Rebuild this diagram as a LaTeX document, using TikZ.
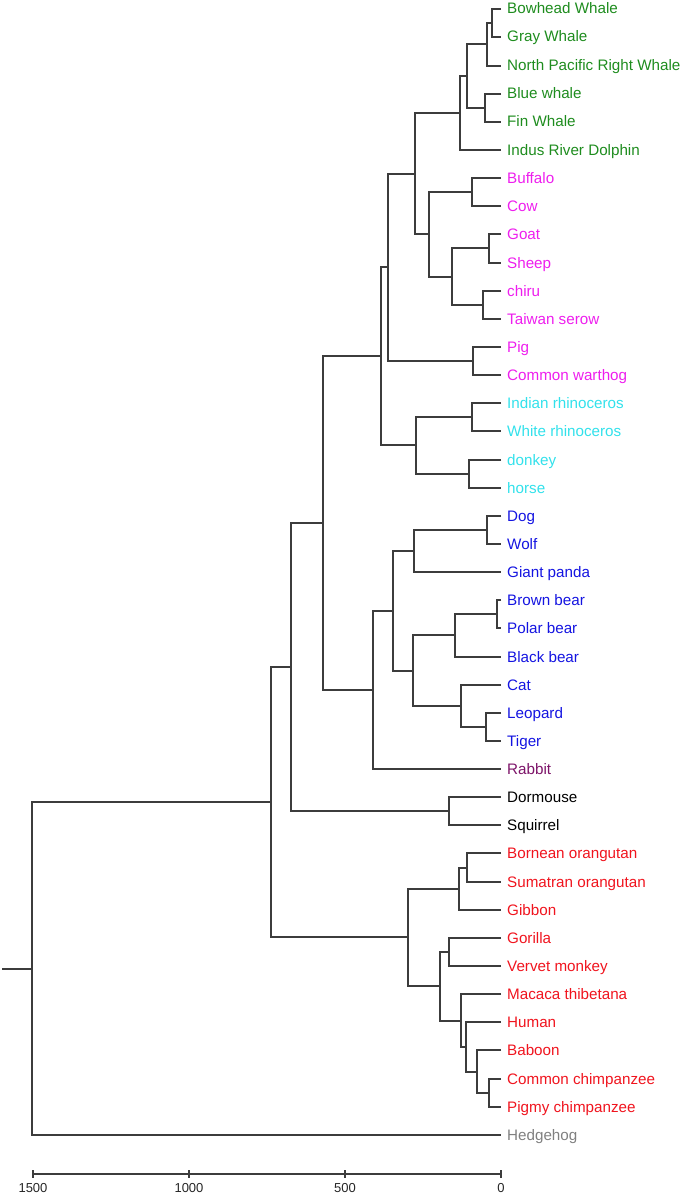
\documentclass[tikz,border=0pt]{standalone}
\usepackage{fontspec}
\setmainfont{Liberation Sans}
\definecolor{cgreen}{RGB}{30,140,30}
\definecolor{cmag}{RGB}{238,30,238}
\definecolor{ccyan}{RGB}{50,225,235}
\definecolor{cblue}{RGB}{20,20,225}
\definecolor{cpurp}{RGB}{125,20,105}
\definecolor{cred}{RGB}{240,20,30}
\definecolor{cgrey}{RGB}{128,128,128}
\definecolor{linec}{RGB}{60,60,60}
\newcommand\LY[1]{-round(9.3+28.14*(#1))}
\begin{document}
\begin{tikzpicture}[x=1pt,y=1pt,
  br/.style={draw=linec, line width=2pt},
  leaf/.style={anchor=west, inner xsep=6pt, inner ysep=0pt, text height=10pt, text depth=0pt, font=\fontsize{15.2}{18}\selectfont},
  ticklab/.style={font=\fontsize{13}{15}\selectfont, text=black!85, inner sep=0pt}
]
\useasboundingbox (0,0) rectangle (685,-1196);
% leaves
\node[leaf,text=cgreen] (L0) at (501,{\LY{0}}) {Bowhead Whale};
\node[leaf,text=cgreen] (L1) at (501,{\LY{1}}) {Gray Whale};
\node[leaf,text=cgreen] (L2) at (501,{\LY{2}}) {North Pacific Right Whale};
\node[leaf,text=cgreen] (L3) at (501,{\LY{3}}) {Blue whale};
\node[leaf,text=cgreen] (L4) at (501,{\LY{4}}) {Fin Whale};
\node[leaf,text=cgreen] (L5) at (501,{\LY{5}}) {Indus River Dolphin};
\node[leaf,text=cmag] (L6) at (501,{\LY{6}}) {Buffalo};
\node[leaf,text=cmag] (L7) at (501,{\LY{7}}) {Cow};
\node[leaf,text=cmag] (L8) at (501,{\LY{8}}) {Goat};
\node[leaf,text=cmag] (L9) at (501,{\LY{9}}) {Sheep};
\node[leaf,text=cmag] (L10) at (501,{\LY{10}}) {chiru};
\node[leaf,text=cmag] (L11) at (501,{\LY{11}}) {Taiwan serow};
\node[leaf,text=cmag] (L12) at (501,{\LY{12}}) {Pig};
\node[leaf,text=cmag] (L13) at (501,{\LY{13}}) {Common warthog};
\node[leaf,text=ccyan] (L14) at (501,{\LY{14}}) {Indian rhinoceros};
\node[leaf,text=ccyan] (L15) at (501,{\LY{15}}) {White rhinoceros};
\node[leaf,text=ccyan] (L16) at (501,{\LY{16}}) {donkey};
\node[leaf,text=ccyan] (L17) at (501,{\LY{17}}) {horse};
\node[leaf,text=cblue] (L18) at (501,{\LY{18}}) {Dog};
\node[leaf,text=cblue] (L19) at (501,{\LY{19}}) {Wolf};
\node[leaf,text=cblue] (L20) at (501,{\LY{20}}) {Giant panda};
\node[leaf,text=cblue] (L21) at (501,{\LY{21}}) {Brown bear};
\node[leaf,text=cblue] (L22) at (501,{\LY{22}}) {Polar bear};
\node[leaf,text=cblue] (L23) at (501,{\LY{23}}) {Black bear};
\node[leaf,text=cblue] (L24) at (501,{\LY{24}}) {Cat};
\node[leaf,text=cblue] (L25) at (501,{\LY{25}}) {Leopard};
\node[leaf,text=cblue] (L26) at (501,{\LY{26}}) {Tiger};
\node[leaf,text=cpurp] (L27) at (501,{\LY{27}}) {Rabbit};
\node[leaf,text=black] (L28) at (501,{\LY{28}}) {Dormouse};
\node[leaf,text=black] (L29) at (501,{\LY{29}}) {Squirrel};
\node[leaf,text=cred] (L30) at (501,{\LY{30}}) {Bornean orangutan};
\node[leaf,text=cred] (L31) at (501,{\LY{31}}) {Sumatran orangutan};
\node[leaf,text=cred] (L32) at (501,{\LY{32}}) {Gibbon};
\node[leaf,text=cred] (L33) at (501,{\LY{33}}) {Gorilla};
\node[leaf,text=cred] (L34) at (501,{\LY{34}}) {Vervet monkey};
\node[leaf,text=cred] (L35) at (501,{\LY{35}}) {Macaca thibetana};
\node[leaf,text=cred] (L36) at (501,{\LY{36}}) {Human};
\node[leaf,text=cred] (L37) at (501,{\LY{37}}) {Baboon};
\node[leaf,text=cred] (L38) at (501,{\LY{38}}) {Common chimpanzee};
\node[leaf,text=cred] (L39) at (501,{\LY{39}}) {Pigmy chimpanzee};
\node[leaf,text=cgrey] (L40) at (501,{\LY{40}}) {Hedgehog};
% internal nodes
\coordinate (w1) at (492,{\LY{0.5}});
\coordinate (w2) at (487,{\LY{1.25}});
\coordinate (w3) at (485,{\LY{3.5}});
\coordinate (w4) at (467,{\LY{2.375}});
\coordinate (w5) at (460,{\LY{3.6875}});
\coordinate (b1) at (472,{\LY{6.5}});
\coordinate (b2) at (489,{\LY{8.5}});
\coordinate (b3) at (483,{\LY{10.5}});
\coordinate (b4) at (452,{\LY{9.5}});
\coordinate (b5) at (429,{\LY{8}});
\coordinate (c1) at (415,{\LY{5.84375}});
\coordinate (p1) at (473,{\LY{12.5}});
\coordinate (c2) at (388,{\LY{9.171875}});
\coordinate (r1) at (472,{\LY{14.5}});
\coordinate (r2) at (469,{\LY{16.5}});
\coordinate (r3) at (416,{\LY{15.5}});
\coordinate (f1) at (381,{\LY{12.3359375}});
\coordinate (k1) at (487,{\LY{18.5}});
\coordinate (k2) at (414,{\LY{19.25}});
\coordinate (k3) at (497,{\LY{21.5}});
\coordinate (k4) at (455,{\LY{22.25}});
\coordinate (k5) at (486,{\LY{25.5}});
\coordinate (k6) at (461,{\LY{24.75}});
\coordinate (k7) at (413,{\LY{23.5}});
\coordinate (k8) at (393,{\LY{21.375}});
\coordinate (k9) at (373,{\LY{24.1875}});
\coordinate (g1) at (323,{\LY{18.26171875}});
\coordinate (d1) at (449,{\LY{28.5}});
\coordinate (g2) at (291,{\LY{23.380859375}});
\coordinate (q1) at (467,{\LY{30.5}});
\coordinate (q2) at (459,{\LY{31.25}});
\coordinate (q3) at (449,{\LY{33.5}});
\coordinate (q4) at (489,{\LY{38.5}});
\coordinate (q5) at (477,{\LY{37.75}});
\coordinate (q6) at (466,{\LY{36.875}});
\coordinate (q7) at (461,{\LY{35.9375}});
\coordinate (q8) at (440,{\LY{34.71875}});
\coordinate (q9) at (408,{\LY{32.984375}});
\coordinate (g3) at (271,{\LY{28.1826171875}});
\coordinate (root) at (32,{\LY{34.09130859375}});
\coordinate (stub) at (2,{\LY{34.09130859375}});
% branches
\draw[br] (L0.west) -| (w1) |- (L1.west);
\draw[br] (w1) -| (w2) |- (L2.west);
\draw[br] (L3.west) -| (w3) |- (L4.west);
\draw[br] (w2) -| (w4) |- (w3);
\draw[br] (w4) -| (w5) |- (L5.west);
\draw[br] (L6.west) -| (b1) |- (L7.west);
\draw[br] (L8.west) -| (b2) |- (L9.west);
\draw[br] (L10.west) -| (b3) |- (L11.west);
\draw[br] (b2) -| (b4) |- (b3);
\draw[br] (b1) -| (b5) |- (b4);
\draw[br] (w5) -| (c1) |- (b5);
\draw[br] (L12.west) -| (p1) |- (L13.west);
\draw[br] (c1) -| (c2) |- (p1);
\draw[br] (L14.west) -| (r1) |- (L15.west);
\draw[br] (L16.west) -| (r2) |- (L17.west);
\draw[br] (r1) -| (r3) |- (r2);
\draw[br] (c2) -| (f1) |- (r3);
\draw[br] (L18.west) -| (k1) |- (L19.west);
\draw[br] (k1) -| (k2) |- (L20.west);
\draw[br] (L21.west) -| (k3) |- (L22.west);
\draw[br] (k3) -| (k4) |- (L23.west);
\draw[br] (L25.west) -| (k5) |- (L26.west);
\draw[br] (L24.west) -| (k6) |- (k5);
\draw[br] (k4) -| (k7) |- (k6);
\draw[br] (k2) -| (k8) |- (k7);
\draw[br] (k8) -| (k9) |- (L27.west);
\draw[br] (f1) -| (g1) |- (k9);
\draw[br] (L28.west) -| (d1) |- (L29.west);
\draw[br] (g1) -| (g2) |- (d1);
\draw[br] (L30.west) -| (q1) |- (L31.west);
\draw[br] (q1) -| (q2) |- (L32.west);
\draw[br] (L33.west) -| (q3) |- (L34.west);
\draw[br] (L38.west) -| (q4) |- (L39.west);
\draw[br] (L37.west) -| (q5) |- (q4);
\draw[br] (L36.west) -| (q6) |- (q5);
\draw[br] (L35.west) -| (q7) |- (q6);
\draw[br] (q3) -| (q8) |- (q7);
\draw[br] (q2) -| (q9) |- (q8);
\draw[br] (g2) -| (g3) |- (q9);
\draw[br] (g3) -| (root) |- (L40.west);
\draw[br] (stub) -- (root);
% axis
\draw[br] (33,-1174) -- (501,-1174);
\foreach \t/\xx in {1500/33,1000/189,500/345,0/501}{
  \draw[br] (\xx,-1170) -- (\xx,-1178);
  \node[ticklab] (tl\t) at (\xx,-1188.5) {\t};
}
\end{tikzpicture}
\end{document}
